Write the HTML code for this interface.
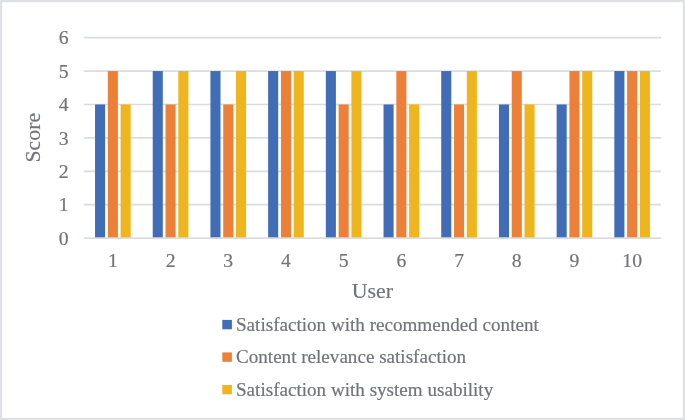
<!DOCTYPE html>
<html><head><meta charset="utf-8"><style>
html,body{margin:0;padding:0;background:#fff;}
svg{display:block;}
text{font-family:"Liberation Serif","Times New Roman",serif;fill:#72747a;stroke:#72747a;stroke-width:0.2px;}
</style></head><body>
<svg width="685" height="420" viewBox="0 0 685 420">
<rect x="0" y="0" width="685" height="420" fill="#fff"/>
<rect x="1.1" y="1.1" width="682.8" height="417.8" fill="none" stroke="#DFE0E3" stroke-width="2.2"/>
<line x1="84.0" y1="204.69" x2="661.0" y2="204.69" stroke="#DADCDF" stroke-width="1.7"/>
<line x1="84.0" y1="171.29" x2="661.0" y2="171.29" stroke="#DADCDF" stroke-width="1.7"/>
<line x1="84.0" y1="137.88" x2="661.0" y2="137.88" stroke="#DADCDF" stroke-width="1.7"/>
<line x1="84.0" y1="104.48" x2="661.0" y2="104.48" stroke="#DADCDF" stroke-width="1.7"/>
<line x1="84.0" y1="71.07" x2="661.0" y2="71.07" stroke="#DADCDF" stroke-width="1.7"/>
<line x1="84.0" y1="37.67" x2="661.0" y2="37.67" stroke="#DADCDF" stroke-width="1.7"/>
<rect x="95.03" y="104.48" width="10.07" height="133.62" fill="#416DB6"/>
<rect x="107.82" y="71.07" width="10.07" height="167.03" fill="#EC8039"/>
<rect x="120.60" y="104.48" width="10.07" height="133.62" fill="#EFB51E"/>
<rect x="152.73" y="71.07" width="10.07" height="167.03" fill="#416DB6"/>
<rect x="165.52" y="104.48" width="10.07" height="133.62" fill="#EC8039"/>
<rect x="178.30" y="71.07" width="10.07" height="167.03" fill="#EFB51E"/>
<rect x="210.43" y="71.07" width="10.07" height="167.03" fill="#416DB6"/>
<rect x="223.22" y="104.48" width="10.07" height="133.62" fill="#EC8039"/>
<rect x="236.00" y="71.07" width="10.07" height="167.03" fill="#EFB51E"/>
<rect x="268.13" y="71.07" width="10.07" height="167.03" fill="#416DB6"/>
<rect x="280.92" y="71.07" width="10.07" height="167.03" fill="#EC8039"/>
<rect x="293.70" y="71.07" width="10.07" height="167.03" fill="#EFB51E"/>
<rect x="325.83" y="71.07" width="10.07" height="167.03" fill="#416DB6"/>
<rect x="338.62" y="104.48" width="10.07" height="133.62" fill="#EC8039"/>
<rect x="351.40" y="71.07" width="10.07" height="167.03" fill="#EFB51E"/>
<rect x="383.53" y="104.48" width="10.07" height="133.62" fill="#416DB6"/>
<rect x="396.32" y="71.07" width="10.07" height="167.03" fill="#EC8039"/>
<rect x="409.10" y="104.48" width="10.07" height="133.62" fill="#EFB51E"/>
<rect x="441.23" y="71.07" width="10.07" height="167.03" fill="#416DB6"/>
<rect x="454.02" y="104.48" width="10.07" height="133.62" fill="#EC8039"/>
<rect x="466.80" y="71.07" width="10.07" height="167.03" fill="#EFB51E"/>
<rect x="498.93" y="104.48" width="10.07" height="133.62" fill="#416DB6"/>
<rect x="511.72" y="71.07" width="10.07" height="167.03" fill="#EC8039"/>
<rect x="524.50" y="104.48" width="10.07" height="133.62" fill="#EFB51E"/>
<rect x="556.63" y="104.48" width="10.07" height="133.62" fill="#416DB6"/>
<rect x="569.42" y="71.07" width="10.07" height="167.03" fill="#EC8039"/>
<rect x="582.20" y="71.07" width="10.07" height="167.03" fill="#EFB51E"/>
<rect x="614.33" y="71.07" width="10.07" height="167.03" fill="#416DB6"/>
<rect x="627.12" y="71.07" width="10.07" height="167.03" fill="#EC8039"/>
<rect x="639.90" y="71.07" width="10.07" height="167.03" fill="#EFB51E"/>
<line x1="84.0" y1="238.10" x2="661.0" y2="238.10" stroke="#DADCDF" stroke-width="1.7"/>
<text x="68.6" y="244.76" text-anchor="end" font-size="19.7">0</text>
<text x="68.6" y="211.35" text-anchor="end" font-size="19.7">1</text>
<text x="68.6" y="177.95" text-anchor="end" font-size="19.7">2</text>
<text x="68.6" y="144.54" text-anchor="end" font-size="19.7">3</text>
<text x="68.6" y="111.14" text-anchor="end" font-size="19.7">4</text>
<text x="68.6" y="77.73" text-anchor="end" font-size="19.7">5</text>
<text x="68.6" y="44.33" text-anchor="end" font-size="19.7">6</text>
<text x="112.85" y="266.6" text-anchor="middle" font-size="19.7">1</text>
<text x="170.55" y="266.6" text-anchor="middle" font-size="19.7">2</text>
<text x="228.25" y="266.6" text-anchor="middle" font-size="19.7">3</text>
<text x="285.95" y="266.6" text-anchor="middle" font-size="19.7">4</text>
<text x="343.65" y="266.6" text-anchor="middle" font-size="19.7">5</text>
<text x="401.35" y="266.6" text-anchor="middle" font-size="19.7">6</text>
<text x="459.05" y="266.6" text-anchor="middle" font-size="19.7">7</text>
<text x="516.75" y="266.6" text-anchor="middle" font-size="19.7">8</text>
<text x="574.45" y="266.6" text-anchor="middle" font-size="19.7">9</text>
<text x="632.15" y="266.6" text-anchor="middle" font-size="19.7">10</text>
<text x="372.4" y="298" text-anchor="middle" font-size="21.8">User</text>
<text transform="translate(40.3,137.7) rotate(-90)" text-anchor="middle" font-size="21.8">Score</text>
<rect x="222.3" y="319.90" width="9.6" height="9.4" fill="#416DB6"/>
<text x="236" y="330.70" font-size="19.1">Satisfaction with recommended content</text>
<rect x="222.3" y="352.40" width="9.6" height="9.4" fill="#EC8039"/>
<text x="236" y="363.20" font-size="19.1">Content relevance satisfaction</text>
<rect x="222.3" y="384.90" width="9.6" height="9.4" fill="#EFB51E"/>
<text x="236" y="395.70" font-size="19.1">Satisfaction with system usability</text>
</svg>
</body></html>
